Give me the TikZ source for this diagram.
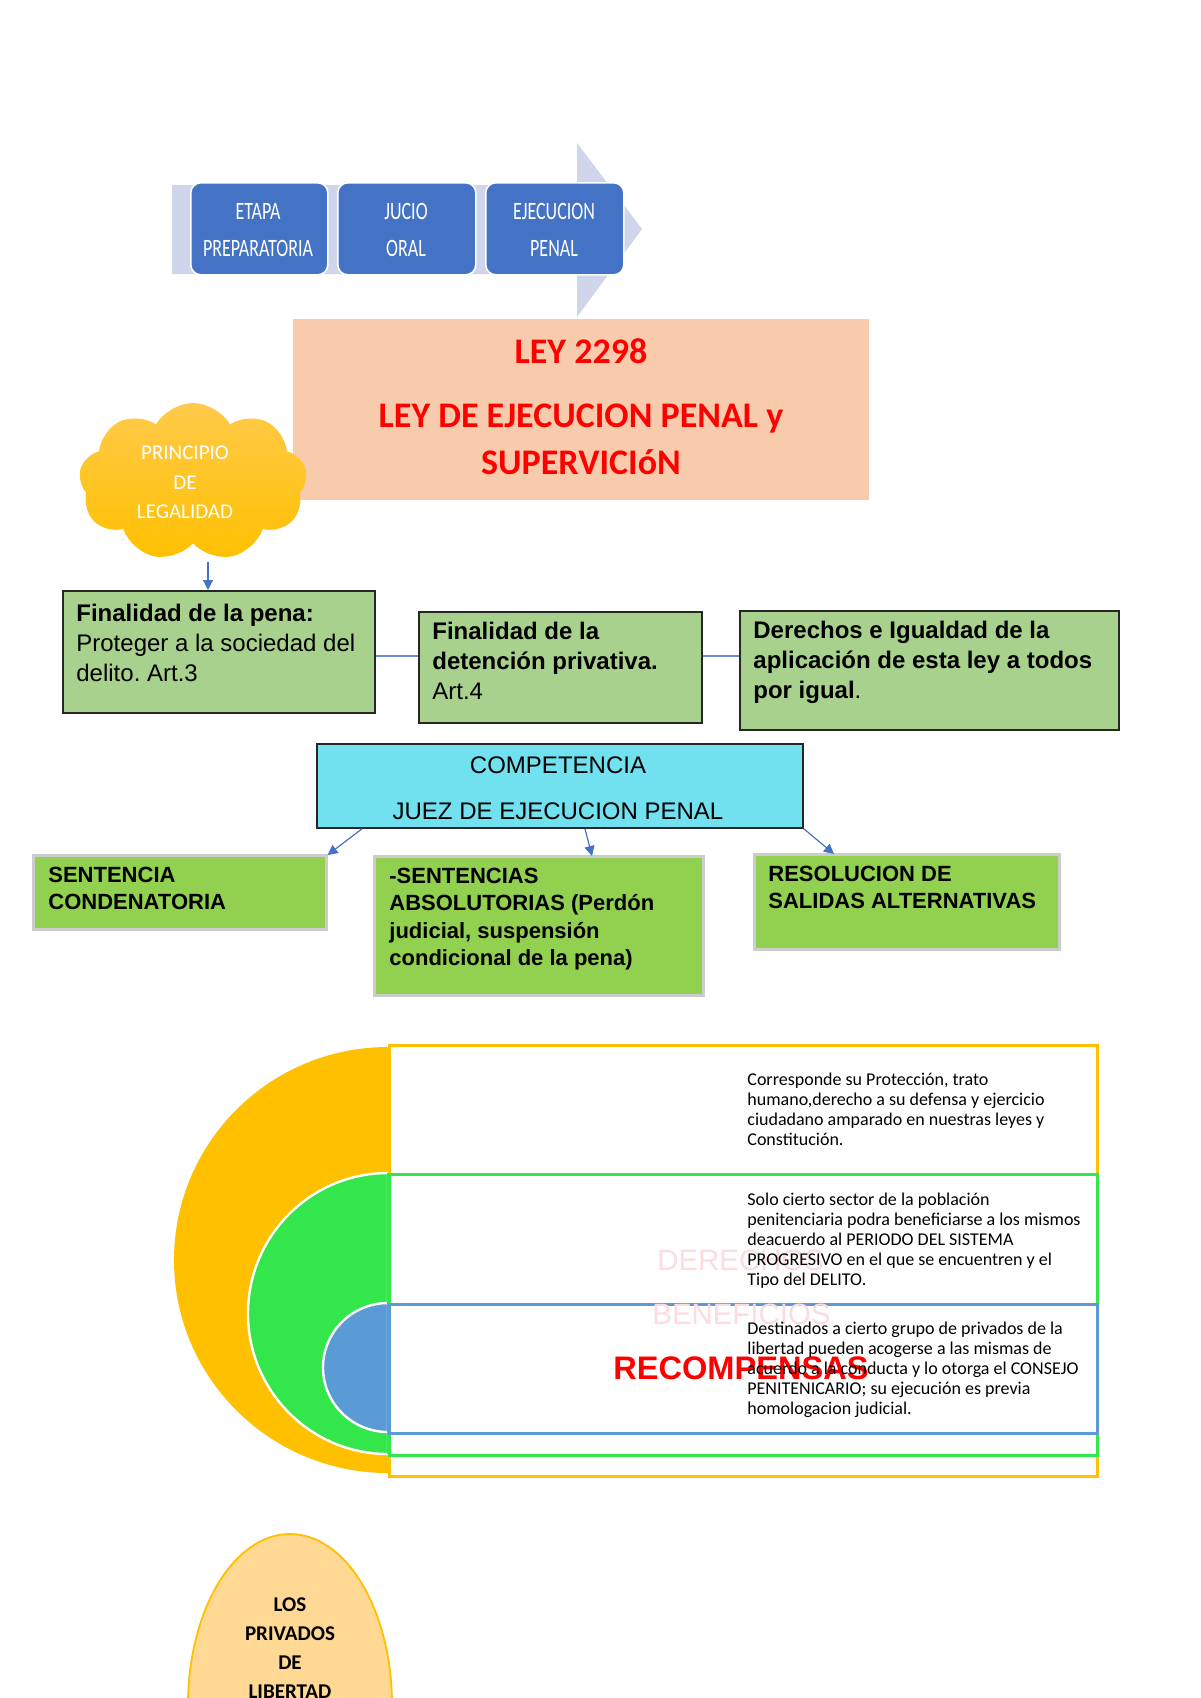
\documentclass[tikz,border=0pt]{standalone}
\usepackage{fontspec}
\setmainfont{Liberation Sans}
\newfontfamily\fcal{Carlito}
\newfontfamily\fcond[FakeStretch=0.72]{Carlito}
\usetikzlibrary{shapes.symbols,shapes.geometric,arrows.meta,calc}
\definecolor{chevbg}{HTML}{CFD5EA}
\definecolor{chevbox}{HTML}{4472C4}
\definecolor{peach}{HTML}{F8CBAD}
\definecolor{lgreen}{HTML}{A9D18E}
\definecolor{cyanbox}{HTML}{71E1F0}
\definecolor{bgreen}{HTML}{92D050}
\definecolor{gold}{HTML}{FFC000}
\definecolor{goldlight}{HTML}{FFCA4A}
\definecolor{brightgreen}{HTML}{33E64B}
\definecolor{midblue}{HTML}{5B9BD5}
\definecolor{eggc}{HTML}{FFD993}
\definecolor{palepink}{HTML}{FCDCDC}
\definecolor{connblue}{HTML}{4472C4}
\definecolor{redtxt}{HTML}{FF0000}
\frenchspacing
\begin{document}
\begin{tikzpicture}[x=0.5pt,y=-0.5pt,
  chev/.style={draw=white, line width=0.8pt, fill=chevbox, rounded corners=5pt, anchor=north west, inner sep=0, minimum height=46pt},
  chevtxt/.style={text=white, font=\fcond\fontsize{12.5}{18.5}\selectfont, anchor=base, inner sep=0},
  gbox/.style={draw=black!85, line width=0.9pt, fill=lgreen, anchor=north west, inner sep=0},
  bbox/.style={draw=black!20, line width=1.3pt, fill=bgreen, anchor=north west, inner sep=0},
  boxtxt/.style={anchor=north west, align=left, inner sep=0, font=\fontsize{12}{15}\selectfont},
  btxt/.style={anchor=north west, align=left, inner sep=0, font=\bfseries\fontsize{11}{13.6}\selectfont},
  smalltxt/.style={anchor=north west, align=left, inner sep=0, font=\fcal\fontsize{9}{10}\selectfont},
  arr/.style={draw=connblue, line width=0.6pt, -{Triangle[length=5pt,width=5pt]}},
  conn/.style={draw=connblue!80, line width=0.8pt},
  halfdisc/.style={draw=white, line width=1.2pt}
]
\useasboundingbox (0,0) rectangle (1200,1698);
\clip (0,0) rectangle (1200,1698);
\fill[white] (0,0) rectangle (1200,1698);

% ---- process arrow ----
\fill[chevbg] (172,185) -- (577,185) -- (577,143) -- (642,229) -- (577,317) -- (577,274) -- (172,274) -- cycle;
\node[chev, minimum width=68.5pt] (p1) at (190,182) {};
\node[chev, minimum width=69pt] (p2) at (337,182) {};
\node[chev, minimum width=69pt] (p3) at (485,182) {};
\node[chevtxt] (p1a) at (258,219) {ETAPA};
\node[chevtxt] (p1b) at (258,256) {PREPARATORIA};
\node[chevtxt] (p2a) at (406,219) {JUCIO};
\node[chevtxt] (p2b) at (406,256) {ORAL};
\node[chevtxt] (p3a) at (554,219) {EJECUCION};
\node[chevtxt] (p3b) at (554,256) {PENAL};

% ---- LEY box ----
\node[fill=peach, anchor=north west, inner sep=0, minimum width=288pt, minimum height=90.5pt] (ley) at (293,319) {};
\begin{scope}[every node/.style={text=redtxt, font=\fcal\bfseries\fontsize{18}{20}\selectfont, anchor=base, inner sep=0}]
\node (ley1) at (581,363) {LEY 2298};
\node (ley2) at (581,427) {LEY DE EJECUCION PENAL y};
\node (ley3) at (581,474) {SUPERVICIóN};
\end{scope}

% ---- cloud ----
\node[cloud, cloud puffs=9, cloud puff arc=120, aspect=1.45, minimum width=114pt, minimum height=79pt, inner sep=0,
      top color=goldlight, bottom color=gold, draw=none] (cloud) at (193,482) {};
\begin{scope}[every node/.style={text=white, font=\fcal\fontsize{10.5}{14}\selectfont, anchor=base, inner sep=0}]
\node (cl1) at (185,459) {PRINCIPIO};
\node (cl2) at (185,489) {DE};
\node (cl3) at (185,518) {LEGALIDAD};
\end{scope}

% ---- green boxes row ----
\node[gbox, minimum width=156pt, minimum height=61pt] (A) at (62,590) {};
\node[gbox, minimum width=141.5pt, minimum height=55.5pt] (B) at (418,611) {};
\node[gbox, minimum width=189.5pt, minimum height=59.5pt] (C) at (739,610) {};
\node[boxtxt] (tA) at (76,604) {\textbf{Finalidad de la pena:}\\Proteger a la sociedad del\\delito. Art.3};
\node[boxtxt] (tB) at (432,622) {\textbf{Finalidad de la}\\\textbf{detención privativa.}\\Art.4};
\node[boxtxt] (tC) at (753,621) {\textbf{Derechos e Igualdad de la}\\\textbf{aplicación de esta ley a todos}\\\textbf{por igual}.};
\coordinate (cl) at (208,562);
\draw[arr] (cl) -- (cl |- A.north);
\coordinate (hl) at (374,656);
\draw[conn] (A.east |- hl) -- (B.west |- hl);
\draw[conn] (B.east |- hl) -- (C.west |- hl);

% ---- competencia ----
\node[draw=black!85, line width=0.9pt, fill=cyanbox, anchor=north west, inner sep=0, minimum width=243pt, minimum height=42pt] (comp) at (316,743) {};
\node[font=\fontsize{12}{14}\selectfont, inner sep=0] (c1) at (558,765) {COMPETENCIA};
\node[font=\fontsize{12}{14}\selectfont, inner sep=0] (c2) at (558,811) {JUEZ DE EJECUCION PENAL};

\node[bbox, minimum width=146.5pt, minimum height=37pt] (SC) at (32,854) {};
\node[bbox, minimum width=164.5pt, minimum height=69.5pt] (SA) at (373,855) {};
\node[bbox, minimum width=152.5pt, minimum height=47.5pt] (RS) at (753,853) {};
\node[btxt] (tSC) at (48,867) {SENTENCIA\\CONDENATORIA};
\node[btxt] (tSA) at (389,868) {-SENTENCIAS\\ABSOLUTORIAS (Perdón\\judicial, suspensión\\condicional de la pena)};
\node[btxt] (tRS) at (768,866) {RESOLUCION DE\\SALIDAS ALTERNATIVAS};

\draw[arr] ($(comp.south west)+(46,0)$) -- ($(SC.north east)+(0,1)$);
\draw[arr] ($(comp.south west)+(269,0)$) -- ($(SA.north west)+(219,1)$);
\draw[arr] (comp.south east) -- ($(RS.north west)+(81,1)$);

% ---- nested half discs ----
\fill[gold] (388,1047) arc[start angle=270, end angle=90, x radius=214, y radius=213] -- cycle;
\filldraw[halfdisc, fill=brightgreen] (388,1173) arc[start angle=270, end angle=90, x radius=140, y radius=140.5] -- cycle;
\filldraw[halfdisc, fill=midblue] (388,1303) arc[start angle=270, end angle=90, x radius=65, y radius=64.5] -- cycle;
\draw[brightgreen, line width=1.2pt] (388,1173) -- (388,1454);
\draw[midblue, line width=1.2pt] (388,1303) -- (388,1432);
\node[draw=gold, line width=1.3pt, anchor=north west, inner sep=0, minimum width=354pt, minimum height=215.5pt] (rg) at (388,1044) {};
\node[draw=brightgreen, line width=1.3pt, anchor=north west, inner sep=0, minimum width=354pt, minimum height=140.5pt] (rgr) at (388,1173) {};
\node[draw=midblue, line width=1.3pt, anchor=north west, inner sep=0, minimum width=354pt, minimum height=64.5pt] (rb) at (388,1303) {};

\node[text=palepink, font=\fontsize{14.7}{16}\selectfont, anchor=west, inner sep=0] (der) at (657,1260) {DERECHOS};
\node[text=palepink, font=\fontsize{14.7}{16}\selectfont, anchor=west, inner sep=0] (ben) at (652,1314) {BENEFICIOS};
\node[text=redtxt, font=\bfseries\fontsize{16.3}{18}\selectfont, inner sep=0] (rec) at (741,1368) {RECOMPENSAS};

\node[smalltxt] (s1) at (747,1073) {Corresponde su Protección, trato\\humano,derecho a su defensa y ejercicio\\ciudadano amparado en nuestras leyes y\\Constitución.};
\node[smalltxt] (s2) at (747,1193) {Solo cierto sector de la población\\penitenciaria podra beneficiarse a los mismos\\deacuerdo al PERIODO DEL SISTEMA\\PROGRESIVO en el que se encuentren y el\\Tipo del DELITO.};
\node[smalltxt] (s3) at (747,1322) {Destinados a cierto grupo de privados de la\\libertad pueden acogerse a las mismas de\\acuerdo a la conducta y lo otorga el CONSEJO\\PENITENICARIO; su ejecución es previa\\homologacion judicial.};

% ---- egg ----
\node[ellipse, fill=eggc, draw=gold, line width=0.9pt, minimum width=102pt, minimum height=171pt, inner sep=0] (egg) at (290,1705) {};
\begin{scope}[every node/.style={font=\fcal\bfseries\fontsize{10.5}{14}\selectfont, anchor=base, inner sep=0}]
\node (e1) at (290,1611) {LOS};
\node (e2) at (290,1640) {PRIVADOS};
\node (e3) at (290,1669) {DE};
\node (e4) at (290,1698) {LIBERTAD};
\end{scope}
\end{tikzpicture}
\end{document}
